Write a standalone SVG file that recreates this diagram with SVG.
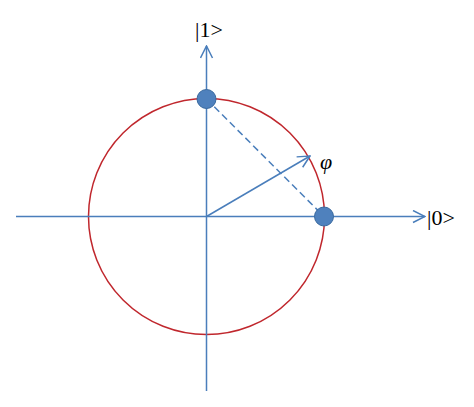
<svg xmlns="http://www.w3.org/2000/svg" width="474" height="407" viewBox="0 0 474 407">
<defs>
<style>
.ax{stroke:#4A7EBB;stroke-width:1.5;fill:none}
.lbl{font-family:"Liberation Serif",serif;font-size:22px;fill:#000}
.dot{fill:#4F81BD;stroke:#3A6A9F;stroke-width:1}
</style>
<marker id="arr" viewBox="0 0 14 14" refX="13" refY="7" markerWidth="14" markerHeight="14" markerUnits="userSpaceOnUse" orient="auto">
<path d="M1,1 L13,7 L1,13" fill="none" stroke="#4A7EBB" stroke-width="1.5"/>
</marker>
</defs>
<rect width="474" height="407" fill="#fff"/>
<g id="circle"><circle cx="206.5" cy="216.5" r="118" fill="none" stroke="#C0272D" stroke-width="1.5"/></g>
<g id="connectors">
<line class="ax" x1="16" y1="216.5" x2="425" y2="216.5" marker-end="url(#arr)"/>
<line class="ax" x1="206.5" y1="391" x2="206.5" y2="46" marker-end="url(#arr)"/>
<line class="ax" x1="206.5" y1="216.5" x2="310" y2="156" marker-end="url(#arr)"/>
<line class="ax" x1="206.5" y1="99" x2="324" y2="216.5" stroke-dasharray="7,4"/>
</g>
<g id="dot1"><circle class="dot" cx="206.5" cy="99" r="9.5"/></g>
<g id="dot0"><circle class="dot" cx="324" cy="216.5" r="9.5"/></g>
<g id="label1"><text class="lbl" x="195" y="37">|1&gt;</text></g>
<g id="label0"><text class="lbl" x="427" y="225">|0&gt;</text></g>
<g id="labelphi"><text class="lbl" x="320" y="169" font-style="italic">φ</text></g>
</svg>
